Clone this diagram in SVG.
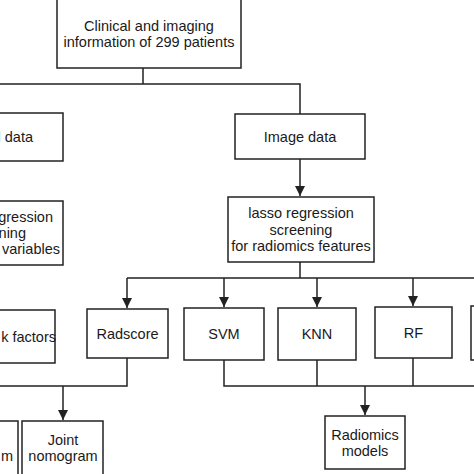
<svg xmlns="http://www.w3.org/2000/svg" width="474" height="474" viewBox="0 0 474 474">
<style>
.b{fill:#fff;stroke:#222;stroke-width:1.5}
text{font-family:"Liberation Sans",Arial,sans-serif;font-size:14.5px;fill:#1a1a1a;text-anchor:middle}
.e{text-anchor:end}
.c{fill:none;stroke:#222;stroke-width:1.5}
</style>
<defs>
<marker id="ah" viewBox="0 0 10 10" refX="10" refY="5" markerWidth="10" markerHeight="10" markerUnits="userSpaceOnUse" orient="auto">
<path d="M0,0 L10,5 L0,10 Z" fill="#222"/>
</marker>
</defs>
<rect width="474" height="474" fill="#fff"/>
<g id="connectors">
<path class="c" d="M143,68 V84 M0,84 H300 V114"/>
<path class="c" d="M300,159 V196" marker-end="url(#ah)"/>
<path class="c" d="M300,262 V278 M127,278 H480"/>
<path class="c" d="M127,278 V308" marker-end="url(#ah)"/>
<path class="c" d="M224,278 V307" marker-end="url(#ah)"/>
<path class="c" d="M317,278 V307" marker-end="url(#ah)"/>
<path class="c" d="M413,278 V306" marker-end="url(#ah)"/>
<path class="c" d="M127,358 V386 H0"/>
<path class="c" d="M63,386 V420" marker-end="url(#ah)"/>
<path class="c" d="M224,360 V386 H480 M317,360 V386 M413,358 V386"/>
<path class="c" d="M365,386 V415" marker-end="url(#ah)"/>
</g>
<g id="top"><rect class="b" x="57" y="-2" width="184" height="70"/><text x="149" y="31">Clinical and imaging</text><text x="149" y="47">information of 299 patients</text></g>
<g id="clinical"><rect class="b" x="-80" y="113" width="143" height="48"/><text class="e" x="33" y="142">l data</text></g>
<g id="image"><rect class="b" x="235" y="114" width="130" height="45"/><text x="300" y="142">Image data</text></g>
<g id="lasso-clin"><rect class="b" x="-80" y="201" width="143" height="64"/><text class="e" x="53" y="222">gression</text><text class="e" x="26" y="238">ning</text><text class="e" x="60" y="254">variables</text></g>
<g id="lasso"><rect class="b" x="228" y="197" width="146" height="65"/><text x="301" y="218">lasso regression</text><text x="301" y="235">screening</text><text x="301" y="251">for radiomics features</text></g>
<g id="risk"><rect class="b" x="-80" y="310" width="135" height="53"/><text class="e" x="56" y="342">k factors</text></g>
<g id="radscore"><rect class="b" x="87" y="309" width="81" height="49"/><text x="127.5" y="339">Radscore</text></g>
<g id="svm"><rect class="b" x="184" y="308" width="80" height="52"/><text x="224" y="339">SVM</text></g>
<g id="knn"><rect class="b" x="278" y="308" width="78" height="52"/><text x="317" y="339">KNN</text></g>
<g id="rf"><rect class="b" x="375" y="307" width="77" height="51"/><text x="413.5" y="338">RF</text></g>
<g id="fifth"><rect class="b" x="471" y="306" width="40" height="54"/></g>
<g id="clin-nomo"><rect class="b" x="-60" y="421" width="78" height="60"/><text class="e" x="13" y="461">m</text></g>
<g id="joint"><rect class="b" x="22" y="421" width="81" height="60"/><text x="63" y="445">Joint</text><text x="63" y="461">nomogram</text></g>
<g id="radiomics"><rect class="b" x="325" y="416" width="80" height="53"/><text x="365" y="440">Radiomics</text><text x="365" y="456">models</text></g>
</svg>
